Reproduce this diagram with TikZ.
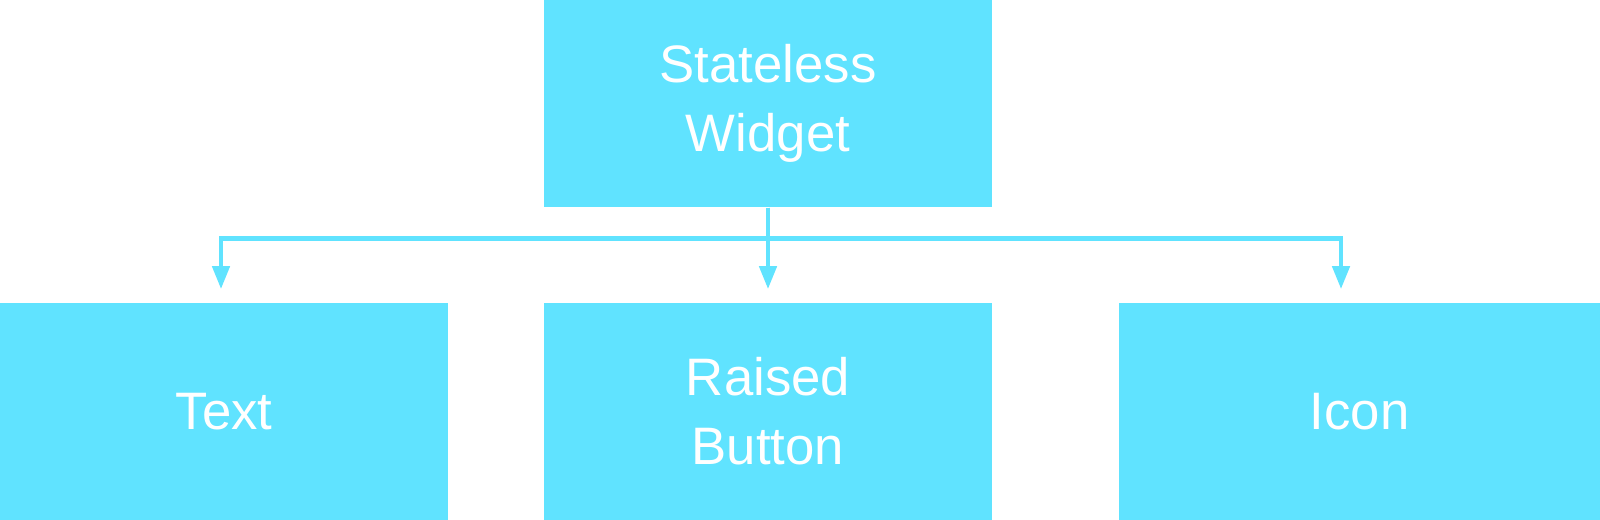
\documentclass[tikz,border=0pt]{standalone}
\usepackage{fontspec}
\setmainfont{Liberation Sans}
\usepackage{tikz}
\usetikzlibrary{positioning, arrows.meta}
\definecolor{flutter}{RGB}{96,227,255}
\tikzstyle{widget} = [rectangle, fill=flutter, text=white, align=center,
                 minimum height=2.17cm, inner sep=0pt,
                 font=\fontsize{15}{19.6}\selectfont]
\tikzset{
	link/.style={draw=flutter, line width=1.4pt,
		-{Triangle[length=6.6pt,width=4.8pt]}, shorten >=0.13cm},
}
\begin{document}
\begin{tikzpicture}

\useasboundingbox (0,0) rectangle (16,5.2);

\node [widget, minimum width=4.48cm, minimum height=2.07cm] at (7.68,4.165) (stateless) {Stateless\\Widget};
    	%children
\node [widget, minimum width=4.48cm] at (2.24,1.085) (text) {Text};
\node [widget, minimum width=4.48cm] at (7.68,1.085) (raised) {Raised\\Button};
\node [widget, minimum width=4.81cm] at (13.595,1.085) (icon) {Icon};

\draw [link] (stateless.south) -- (raised.north);
\draw [link] (stateless.south) -- ++(0,-0.31) -| ([xshift=-0.03cm]text.north);
\draw [link] (stateless.south) -- ++(0,-0.31) -| ([xshift=-0.185cm]icon.north);

\end{tikzpicture}
\end{document}
